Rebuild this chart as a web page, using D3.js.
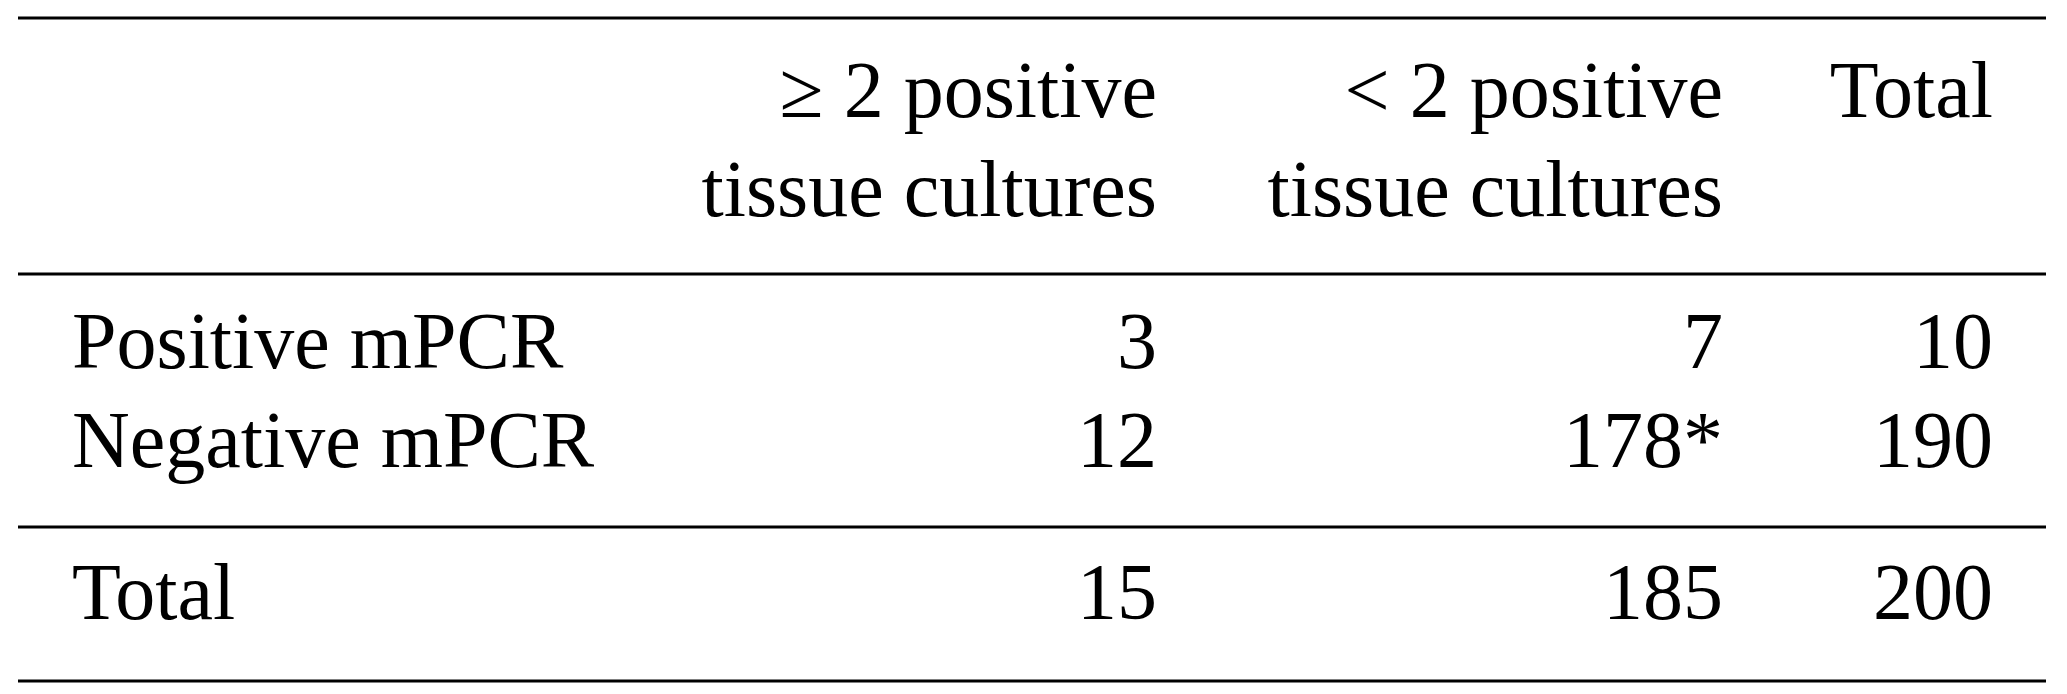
<!DOCTYPE html>
<html><head><meta charset="utf-8">
<script src="https://cdn.jsdelivr.net/npm/d3@7"></script>
<style>body{margin:0;background:#fff}</style>
</head><body><div id="table"></div>
<script>
// table contents
const headers1 = ["", "\u2265 2 positive", "< 2 positive", "Total"];
const headers2 = ["", "tissue cultures", "tissue cultures", ""];
const rowLabels = ["Positive mPCR", "Negative mPCR"];
const col1 = ["3", "12"];
const col2 = ["7", "178*"];
const col3 = ["10", "190"];
const totalRow = ["Total", "15", "185", "200"];

const W = 2067, H = 694;
const svg = d3.select("#table").append("svg")
  .attr("width", W).attr("height", H)
  .style("font-family", "'Liberation Serif', 'Times New Roman', serif")
  .style("font-size", "80px");

// column right edges (label column left-aligned)
const colX = [72, 1157, 1723, 1993];

// rules
[18, 274, 527, 681].forEach(y => {
  svg.append("line").attr("x1", 18).attr("x2", 2046)
    .attr("y1", y).attr("y2", y)
    .attr("stroke", "#000").attr("stroke-width", 3);
});

function row(cells, y) {
  cells.forEach((t, i) => {
    svg.append("text")
      .attr("x", colX[i]).attr("y", y)
      .attr("text-anchor", i === 0 ? "start" : "end")
      .text(t);
  });
}

row(headers1, 117);
row(headers2, 216);
rowLabels.forEach((l, i) => row([l, col1[i], col2[i], col3[i]], [368, 467][i]));
row(totalRow, 619);
</script>
</body></html>
